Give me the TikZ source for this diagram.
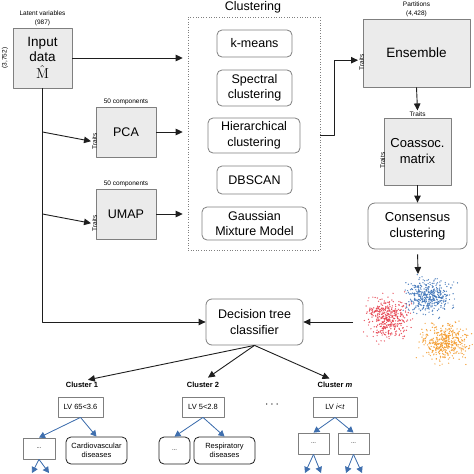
\documentclass[tikz,border=0pt]{standalone}
\usepackage[no-math]{fontspec}
\setmainfont{Liberation Sans}
\usetikzlibrary{arrows.meta,positioning}
\definecolor{boxgray}{HTML}{EBEBEB}
\definecolor{edgegray}{HTML}{7F7F7F}
\definecolor{linegray}{HTML}{1E1E1E}
\definecolor{treeblue}{HTML}{3F6FAE}
\definecolor{dotred}{HTML}{E5414E}
\definecolor{dotblue}{HTML}{3E74B8}
\definecolor{dotorange}{HTML}{F39A2B}
\begin{document}
\begin{tikzpicture}[x=1pt, y=-1pt, font=\fontsize{12.5}{15.5}\selectfont, line join=round, >={Triangle[length=7pt,width=6.5pt]}]
	\tikzset{
	graybox/.style={draw=edgegray, fill=boxgray, line width=0.8pt, align=center, inner sep=0pt},
	method/.style={draw=edgegray, fill=white, rounded corners=5pt, line width=0.8pt, align=center, inner sep=0pt},
	leaf/.style={draw=edgegray, fill=white, line width=0.8pt, align=center, inner sep=0pt, font=\fontsize{7.5}{9.5}\selectfont},
	roundleaf/.style={leaf, draw=linegray, rounded corners=5pt},
	tiny/.style={font=\fontsize{6.5}{8.5}\selectfont, align=center, inner sep=1pt},
	traits/.style={font=\fontsize{6.5}{7}\selectfont, rotate=90, inner sep=1pt},
	clab/.style={font=\fontsize{7.5}{9}\selectfont\bfseries, inner sep=1pt},
	flow/.style={->, draw=linegray, line width=0.9pt},
	blueflow/.style={-{Triangle[length=6pt,width=6.5pt]}, draw=treeblue, fill=treeblue, line width=0.8pt}
	}
	\useasboundingbox (0,0) rectangle (474,474);
	\node[graybox, minimum width=59, minimum height=60, font=\fontsize{13.5}{14.5}\selectfont] (input) at (42.5,58) {Input\\data\\[3pt]$\hat{\mathrm{M}}$};
	\node[tiny, above=1pt of input] (latent) {Latent variables\\(987)};
	\node[traits] (rows) at (5,58) {(3,752)};
	\node[draw=edgegray, dotted, line width=0.6pt, minimum width=132, minimum height=233] (clus) at (254,133.5) {};
	\node (clustitle) at (253,7) {Clustering};
	\node[method, minimum width=75, minimum height=27] (kmeans) at (254.5,43.5) {k-means};
	\node[method, minimum width=75, minimum height=36] (spectral) at (254.5,88) {Spectral\\clustering};
	\node[method, minimum width=92, minimum height=35] (hier) at (254,135.5) {Hierarchical\\clustering};
	\node[method, minimum width=75, minimum height=28] (dbscan) at (254.5,180) {DBSCAN};
	\node[method, minimum width=105, minimum height=33] (gmm) at (254.5,223.5) {Gaussian\\Mixture Model};
	\node[graybox, minimum width=60, minimum height=50] (pca) at (126,132) {PCA};
	\node[tiny, above=1pt of pca] (pcacomp) {50 components};
	\node[traits, left=1pt of pca] (pcatraits) {Traits};
	\node[graybox, minimum width=60, minimum height=50] (umap) at (126,214) {UMAP};
	\node[tiny, above=1pt of umap] (umapcomp) {50 components};
	\node[traits, left=1pt of umap] (umaptraits) {Traits};
	\node[graybox, minimum width=107, minimum height=68, font=\fontsize{13.5}{16}\selectfont] (ensemble) at (416.5,53) {Ensemble};
	\node[tiny, above=1pt of ensemble] (partitions) {Partitions\\(4,428)};
	\node[traits, left=1pt of ensemble] (enstraits) {Traits};
	\node[graybox, minimum width=67, minimum height=67, font=\fontsize{13}{16}\selectfont] (coassoc) at (417.5,151.5) {Coassoc.\\matrix};
	\node[tiny, above=0pt of coassoc] (cotraits) {Traits};
	\node[traits, left=1pt of coassoc] (coltraits) {Traits};
	\node[method, rounded corners=7pt, minimum width=99, minimum height=46, font=\fontsize{13}{16}\selectfont] (consensus) at (417.5,226) {Consensus\\clustering};
	\node[method, rounded corners=6pt, minimum width=97, minimum height=46] (dtree) at (254.5,322) {Decision tree\\classifier};
	\pgfmathsetseed{4242}
	\foreach \cx/\cy/\sx/\sy/\col in {388/317/10/10/dotred, 428/296/11/8/dotblue, 445/343/11/9/dotorange}{
	\foreach \i in {1,...,420}{
	\pgfmathsetmacro\dx{(rand+rand+rand)*\sx}
	\pgfmathsetmacro\dy{(rand+rand+rand)*\sy}
	\fill[\col, opacity=0.9] ({\cx+\dx},{\cy+\dy}) circle (0.7pt);
	}}
	\coordinate (blobtop) at (418,274);
	\coordinate (blobwest) at (353,322);
	\node[clab] (c1) at (82,385) {Cluster 1};
	\node[clab] (c2) at (203,385) {Cluster 2};
	\node[clab] (cm) at (335,385) {Cluster \textit{m}};
	\node[font=\fontsize{12}{12}\selectfont\bfseries] (gap) at (272,405) {$\cdots$};
	\node[leaf, minimum width=45, minimum height=20] (lv1) at (80.5,407) {LV 65<3.6};
	\node[leaf, minimum width=42, minimum height=20] (lv2) at (203,407) {LV 5<2.8};
	\node[leaf, minimum width=44, minimum height=20] (lvm) at (335,407) {LV \textit{i}<\textit{t}};
	\node[leaf, minimum width=32, minimum height=21, font=\fontsize{6}{6}\selectfont] (d11) at (39,448.5) {...};
	\node[roundleaf, minimum width=61, minimum height=27] (cardio) at (96.5,450.5) {Cardiovascular\\diseases};
	\node[roundleaf, minimum width=31, minimum height=27, font=\fontsize{6}{6}\selectfont] (d21) at (174.5,450.5) {...};
	\node[roundleaf, minimum width=61, minimum height=27] (resp) at (224.5,450.5) {Respiratory\\diseases};
	\node[leaf, minimum width=31, minimum height=21, font=\fontsize{6}{6}\selectfont] (dm1) at (313.5,443.5) {...};
	\node[leaf, minimum width=31, minimum height=21, font=\fontsize{6}{6}\selectfont] (dm2) at (353.5,443.5) {...};
	\foreach \n/\x in {a/32,b/49,c/305,d/321,e/346,f/362}{
	\coordinate (end\n) at (\x,473);
	}
	\draw[flow, shorten >=5pt] (input.east) -- (input.east -| clus.west);
	\draw[flow] (input.south) |- (dtree.west);
	\draw[flow] (input.south |- pca.west) -- (pcatraits.north);
	\draw[flow] (input.south |- umap.west) -- (umaptraits.north);
	\draw[flow, shorten >=5pt] (pca.east) -- (pca.east -| clus.west);
	\draw[flow, shorten >=5pt] (umap.east) -- (umap.east -| clus.west);
	\draw[flow] (clus.east |- hier) -- ++(14,0) |- ([yshift=2pt]enstraits.north);
	\draw[flow] (ensemble.south) -- (cotraits.north);
	\draw[flow] (coassoc.south) -- (consensus.north);
	\draw[flow, shorten <=5pt] (consensus.south) -- (blobtop);
	\draw[flow] (blobwest) -- (dtree.east);
	\draw[flow, shorten >=6pt] (dtree.south) -- (c1.north);
	\draw[flow, shorten >=6pt] (dtree.south) -- (c2.north);
	\draw[flow, shorten >=6pt] (dtree.south) -- (cm.north);
	\draw[blueflow] (lv1.south) -- (d11.north);
	\draw[blueflow] (lv1.south) -- (cardio.north);
	\draw[blueflow] (lv2.south) -- (d21.north);
	\draw[blueflow] (lv2.south) -- (resp.north);
	\draw[blueflow] (lvm.south) -- (dm1.north);
	\draw[blueflow] (lvm.south) -- (dm2.north);
	\draw[blueflow] (d11.south) -- (enda);
	\draw[blueflow] (d11.south) -- (endb);
	\draw[blueflow] (dm1.south) -- (endc);
	\draw[blueflow] (dm1.south) -- (endd);
	\draw[blueflow] (dm2.south) -- (ende);
	\draw[blueflow] (dm2.south) -- (endf);
\end{tikzpicture}
\end{document}
